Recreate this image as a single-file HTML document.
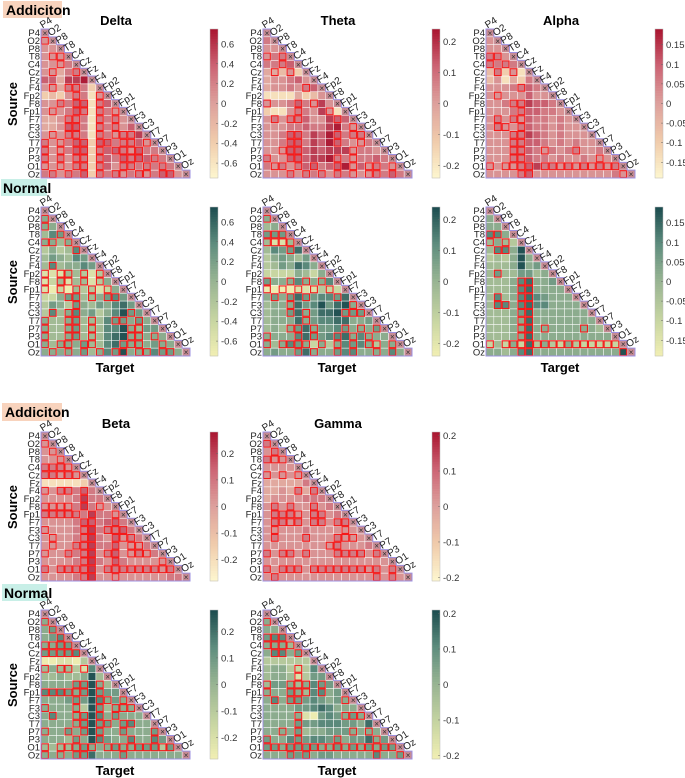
<!DOCTYPE html>
<html><head><meta charset="utf-8"><style>
html,body{margin:0;padding:0;background:#fff;}
svg{display:block;font-family:"Liberation Sans",sans-serif;}
</style></head><body>
<svg id="fig" width="685" height="778" viewBox="0 0 685 778">
<rect x="3" y="1" width="59" height="17" fill="#f8d3bd"/>
<text x="6" y="15" font-size="14" font-weight="bold">Addiciton</text>
<rect x="1" y="179" width="46" height="17" fill="#c8efe7"/>
<text x="3" y="193" font-size="14" font-weight="bold">Normal</text>
<rect x="2" y="403" width="60" height="18" fill="#f8d3bd"/>
<text x="5" y="417" font-size="14" font-weight="bold">Addiciton</text>
<rect x="2" y="584" width="45" height="17" fill="#c8efe7"/>
<text x="4" y="598" font-size="14" font-weight="bold">Normal</text>
</svg>
<script>
const channels = ["P4","O2","P8","T8","C4","Cz","Fz","F4","Fp2","F8","Fp1","F7","F3","C3","T7","P7","P3","O1","Oz"];
const bandNames = ["Delta","Theta","Alpha","Beta","Gamma"];
const bandRanges = [0.75,0.24,0.19,0.28,0.21];
const tickDelta = [0.6,0.4,0.2,0,-0.2,-0.4,-0.6];
const tickTheta = [0.2,0.1,0,-0.1,-0.2];
const tickAlpha = [0.15,0.1,0.05,0,-0.05,-0.1,-0.15];
const tickBeta = [0.2,0.1,0,-0.1,-0.2];
const tickGamma = [0.2,0.1,0,-0.1,-0.2];
// levels 0-9 per cell (lower triangle rows); letters a-j = same level with significance box
const deltaAdd = ["","f","55","5ff","55f6","5f46g","774889","5f4gg62","2325g61f","55g6hh1g7","5f56hg1g6f","445gg61g6g5","445hh61g6g57","5f5gg61g6fgg8","g5f6hh2hh6gg7f","g5f6hh2g7hgfh66","g5g5gg2g76hgh7g6","f5f5gg2g75gg6g6g6","6g5g6h2g6gf6gf6hh5"];
const deltaNor = ["","f","f5","47g","ff4f","3534h","465476","4h45576","b1be4d1d","b2eb4e1d5","b0c0e3d1c5","225gg4e5gh6","3653g5465786","3h4fh563579g6","f44fg4e47gg5g5","f44fg4e4779fe66","f44fg4e4789ff5f5","f4ff5ge478gff56f5","5f5f5g4f7gj5ff7gg5"];
const thetaAdd = ["","6","55","f6g","66g7","4e3f2","455675","45565g7","11114235","f556h6f85","2115g658f1","5g5gg7558h7","55566766896f","556hh6879h6gg","556hh6879h65f6","55fhh787888f665","g55hh7889g6f6676","6fg5g7h67h9f7fg6f","555g5g6g5g6f5fg6h6"];
const thetaNor = ["","f","45","ggg","ebbe","476g8","356546","3465875","22225425","g55f7f5f7","a0a0b1b3c2","5g5g8g677g8","455f8679689f","455g8f6889ggg","45558f67788556","454fg8f667g5f5g","f555h8g67h8f7f55","f4fhgf2f3f7g7fd5f","5655g8f55g7h55f5h5"];
const alphaAdd = ["","5","55","gg5","g6g6","3g2f1","351426","5556g76","5f555755","556gg8776","5556g77665","5g5gf766565","5gf5g7665655","555gg87656555","555gg776565655","555gg76f656g556","555gg766565565f5","f5ffgh8ggfgfgfgfg","5555gh55555555556f"];
const alphaNor = ["","5","55","hh5","e5e3","4hh59","343595","4445956","4g446645","4445hi556","4445hi5555","4h45hi76555","4hh5hi775555","4445gi5555555","4445fi55555555","4445fi5f5555f54","4445fi5555555555","c4cfcidfdcfdccccc","5545hi55555555555j"];
const betaAdd = ["","f","5f","55f","gggf","ggfgf","111112","f5gg6h6","55556i66","ffff6i6f5","ggggg6i66f","55556hh67h6","f5556gi6ggh6","5f556gi65hfg6","5f55ggi66h5ff6","f55g6gi5gh5fgf6","55556gi65h65555f","g5ggggi5gggggggfg","55556gi55f55555566"];
const betaNor = ["","f","5g","56h","ffgg","ggggh","001103","e5ee3b7","44544594","5555gg9f4","hhhgfg9g66","5556g69hf6f","f555f39g4fff","5h55fg9h5g555","5555fg9gg5gh55","f55g5g9g55g555g","5554g59h655h55h6","e4eefgf5fgffgggdg","f5f5gg8555g5555555"];
const gammaAdd = ["","g","5g","gff","5555","f5f5f","444446","4454g4g","45555666","5g5g55g56","5gggf5gg56","5ggfg5gg5gg","5f55565555f5","5g555g555gff5","55555555fg5556","g5gg5g555gggg5g","5555555555555555","g5ggg5gggggggfg5g","5g555555555555g5g5"];
const gammaNor = ["","f","55","ghh","fffe","5hh5g","333333","4553c37","4554b366","e66fef7g6","f55gfe7h56","5h5gg67656f","555566787555","5555f10676fgf","5555g667776658","55f5g455666f5f5","g557g6776g5668f6","ggfggggffgfgfgfgg","555g6g56655555h55g"];

const NS="http://www.w3.org/2000/svg";
const svg=document.getElementById('fig');
function mk(tag,attrs,parent){const e=document.createElementNS(NS,tag);for(const k in attrs)e.setAttribute(k,attrs[k]);(parent||svg).appendChild(e);return e;}
function lerp(a,b,t){return a+(b-a)*t;}
function hex(h){return [parseInt(h.slice(1,3),16),parseInt(h.slice(3,5),16),parseInt(h.slice(5,7),16)];}
const redMap=["#fdf6cf","#f0cbab","#dda09c","#cc6474","#a9142f"].map(hex);
const greenMap=["#f1efb3","#c6d4a1","#98b492","#5e8d7e","#1b4b4e"].map(hex);
function cmap(stops,t){t=Math.max(0,Math.min(1,t));const s=t*(stops.length-1);const i=Math.min(stops.length-2,Math.floor(s));const f=s-i;const a=stops[i],b=stops[i+1];return `rgb(${Math.round(lerp(a[0],b[0],f))},${Math.round(lerp(a[1],b[1],f))},${Math.round(lerp(a[2],b[2],f))})`;}
function parseCell(ch){const code=ch.charCodeAt(0);if(code>=97&&code<=106)return {lvl:code-97,box:true};return {lvl:parseInt(ch),box:false};}

const N=19, CS=149/19;
const colX=[41,263,486], cbX=[210,432,655], rowY=[29,207,432,610];
const panels=[
 {band:0,col:0,row:0,data:deltaAdd,map:redMap,ticks:tickDelta,title:true},
 {band:1,col:1,row:0,data:thetaAdd,map:redMap,ticks:tickTheta,title:true},
 {band:2,col:2,row:0,data:alphaAdd,map:redMap,ticks:tickAlpha,title:true},
 {band:0,col:0,row:1,data:deltaNor,map:greenMap,ticks:tickDelta,target:true},
 {band:1,col:1,row:1,data:thetaNor,map:greenMap,ticks:tickTheta,target:true},
 {band:2,col:2,row:1,data:alphaNor,map:greenMap,ticks:tickAlpha,target:true},
 {band:3,col:0,row:2,data:betaAdd,map:redMap,ticks:tickBeta,title:true},
 {band:4,col:1,row:2,data:gammaAdd,map:redMap,ticks:tickGamma,title:true},
 {band:3,col:0,row:3,data:betaNor,map:greenMap,ticks:tickBeta,target:true},
 {band:4,col:1,row:3,data:gammaNor,map:greenMap,ticks:tickGamma,target:true}
];

panels.forEach(p=>{
  const x0=colX[p.col], y0=rowY[p.row], range=bandRanges[p.band];
  const g=mk('g',{});
  
  
  const xs=c=>x0+c*CS, ys=r=>y0+r*CS;
  const valToT=v=>(v+range)/(2*range);
  const boxes=[];
  for(let r=0;r<N;r++){
    const row=p.data[r]||"";
    for(let c=0;c<r;c++){
      const cell=parseCell(row[c]||"5");
      const v=(cell.lvl-4.5)/4.5*range*0.95;
      const rc=mk('rect',{x:xs(c),y:ys(r),width:CS,height:CS,fill:cmap(p.map,valToT(v)),stroke:'#fff','stroke-width':0.5},g);
      
      
      if(cell.box)boxes.push([r,c]);
    }
    const d=mk('rect',{x:xs(r),y:ys(r),width:CS,height:CS,fill:'#c68b93',stroke:'#fff','stroke-width':0.5},g);
    
    
    const xm=mk('text',{x:xs(r)+CS/2,y:ys(r)+CS/2+3,'font-size':8,'text-anchor':'middle',fill:'#333'},g);
    xm.textContent='×';
    
    
  }
  boxes.forEach(([r,c])=>{
    const b=mk('rect',{x:xs(c)+0.5,y:ys(r)+0.5,width:CS-1,height:CS-1,fill:'none',stroke:'#f51a1a','stroke-width':1.1},g);
    
    
  });
  let d='M'+xs(0)+','+ys(0);
  for(let i=0;i<N;i++){d+=' L'+xs(i+1)+','+ys(i)+' L'+xs(i+1)+','+ys(i+1);}
  d+=' L'+xs(0)+','+ys(N)+' Z';
  const o=mk('path',{d:d,fill:'none',stroke:'#9d90e0','stroke-width':1},g);
  
  
  for(let i=0;i<N;i++){
    const t=mk('text',{x:x0-1,y:ys(i)+CS/2+3.3,'font-size':9.5,'text-anchor':'end',fill:'#222'},g);
    t.textContent=channels[i];
    
    
    const ax=xs(i)+1.5, ay=ys(i)-0.5;
    const t2=mk('text',{x:ax,y:ay,'font-size':10,fill:'#222',transform:`rotate(-32 ${ax} ${ay})`},g);
    t2.textContent=channels[i];
    
    
  }
  if(p.col===0){
    const s=mk('text',{x:17,y:y0+75,'font-size':13,'font-weight':'bold','text-anchor':'middle',transform:`rotate(-90 17 ${y0+75})`},g);
    s.textContent='Source';
    
    
  }
  if(p.title){
    const t=mk('text',{x:x0+75,y:y0-4,'font-size':13,'font-weight':'bold','text-anchor':'middle'},g);
    t.textContent=bandNames[p.band];
    
    
  }
  if(p.target){
    const t=mk('text',{x:x0+74,y:y0+165,'font-size':13,'font-weight':'bold','text-anchor':'middle'},g);
    t.textContent='Target';
    
    
  }
  const cx=cbX[p.col], H=149, steps=60;
  for(let k=0;k<steps;k++){
    const r=mk('rect',{x:cx,y:y0+k*H/steps,width:8,height:H/steps+0.3,fill:cmap(p.map,1-(k+0.5)/steps)},g);
    
    
  }
  const fr=mk('rect',{x:cx,y:y0,width:8,height:H,fill:'none',stroke:'#bbb','stroke-width':0.5},g);
  
  
  p.ticks.forEach(v=>{
    const ty=y0+(range-v)/(2*range)*H;
    const tk=mk('line',{x1:cx+6,x2:cx+8,y1:ty,y2:ty,stroke:'#666','stroke-width':0.5},g);
    
    
    const tl=mk('text',{x:cx+11,y:ty+3.5,'font-size':9.5,fill:'#333'},g);
    tl.textContent=String(v);
    
    
  });
});
</script>
</body></html>
